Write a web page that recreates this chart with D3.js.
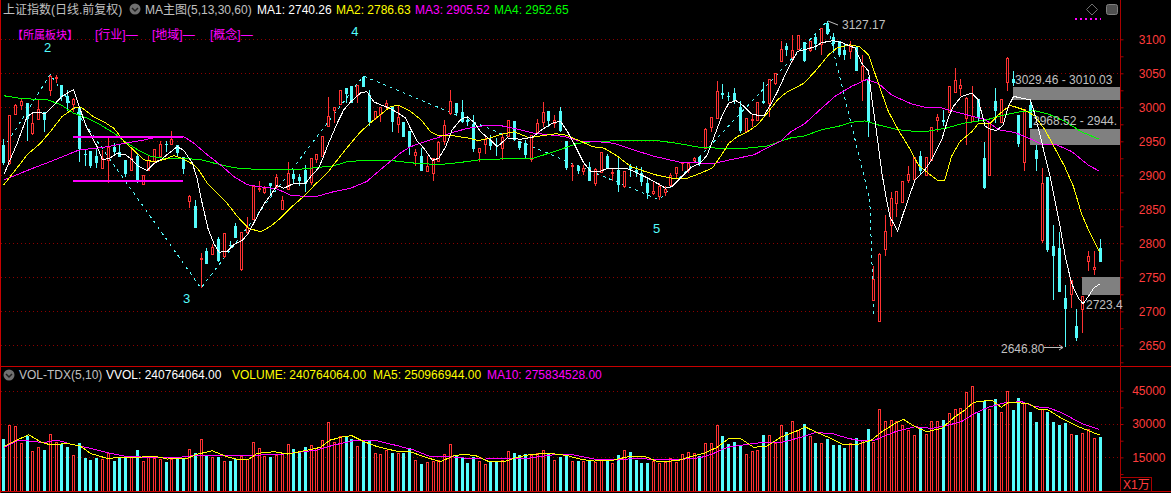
<!DOCTYPE html>
<html>
<head>
<meta charset="utf-8">
<script src="https://cdnjs.cloudflare.com/ajax/libs/d3/7.8.5/d3.min.js"></script>
<style>
    html, body { margin: 0; padding: 0; background: #000; overflow: hidden; }
    text { font-family: "Liberation Sans", "Noto Sans CJK SC", sans-serif; font-size: 12px; }
</style>
</head>
<body>
<svg id="chart" width="1171" height="493"></svg>
<script>
const UP_COLOR = "#ff3232";
const DOWN_COLOR = "#54fcfc";
const GRID_COLOR = "#8c0000";
const AXIS_COLOR = "#a80000";
const FRAME_COLOR = "#c80000";
const LABEL_COLOR = "#c0c0c0";
const TICK_COLOR = "#ff3c3c";

const opens = [
    2945,2918,2990,3003,3006,2963,2983,2993,3026,3042,
    3033,3017,3004,3000,2932,2936,2929,2911,2923,2942,
    2934,2923,2908,2928,2887,2908,2920,2928,2946,2947,
    2945,2927,2861,2855,2776,2789,2784,2807,2781,2798,
    2826,2761,2817,2835,2879,2875,2889,2884,2851,2879,
    2902,2897,2908,2891,2924,2928,2973,2996,3006,3029,
    3032,3018,3044,3018,2984,2990,3002,3000,2976,2979,
    2965,2929,2929,2906,2903,2921,2951,2992,3006,2993,
    2982,2976,2934,2945,2952,2945,2941,2958,2980,2951,
    2947,2924,2964,2978,2994,2978,2995,2951,2913,2914,
    2907,2912,2889,2905,2929,2903,2908,2885,2913,2908,
    2904,2888,2874,2870,2876,2887,2903,2917,2908,2922,
    2927,2940,2972,2985,3021,3017,3021,3000,2965,2981,
    2982,3009,3005,3036,3067,3090,3074,3087,3096,3084,
    3104,3092,3124,3103,3097,3084,3083,3089,3040,3040,
    2716,2685,2792,2826,2859,2860,2893,2894,2929,2901,
    2923,2982,2981,2994,3022,3028,2983,2979,3012,2925,
    2900,3009,2978,3037,3042,2988,2919,3004,2937,2804,
    2898,2796,2793,2719,2726,2679,2703,2775,2762,2793
];
const closes = [
    2918,2989,3003,3009,2983,2977,2997,2981,3046,3044,
    3016,3006,3012,2938,2931,2914,2919,2925,2942,2934,
    2927,2902,2925,2893,2900,2923,2938,2946,2944,2954,
    2933,2909,2869,2823,2778,2770,2794,2775,2815,2796,
    2809,2816,2824,2884,2881,2881,2885,2898,2864,2903,
    2895,2891,2888,2926,2932,2958,2987,3000,3026,3020,
    3007,3033,3030,2978,2995,3000,3006,2978,2986,2957,
    2942,2934,2907,2914,2925,2949,2974,3009,2991,2979,
    2979,2939,2940,2953,2943,2944,2957,2982,2952,2941,
    2930,2959,2977,2993,2980,2982,2965,2911,2915,2907,
    2911,2892,2910,2934,2911,2905,2886,2907,2908,2903,
    2891,2873,2877,2885,2880,2901,2912,2919,2918,2925,
    2918,2968,2986,3024,3018,3016,3009,2964,2984,2983,
    3008,3006,3041,3050,3085,3084,3084,3107,3068,3097,
    3093,3116,3108,3092,3076,3077,3092,3054,3061,2978,
    2747,2784,2818,2866,2877,2891,2902,2927,2907,2927,
    2971,2986,2978,3032,3040,3033,3013,2987,2984,2881,
    2978,2994,3012,3072,3036,2945,2997,2970,2924,2888,
    2790,2781,2729,2703,2746,2662,2722,2782,2765,2773
];
const highs = [
    2953,2989,3005,3012,3006,2991,3011,2993,3048,3047,
    3033,3026,3014,3000,2937,2936,2940,2937,2957,2947,
    2946,2923,2939,2933,2900,2928,2938,2950,2950,2965,
    2945,2927,2871,2864,2786,2793,2799,2810,2815,2803,
    2830,2816,2839,2885,2892,2885,2889,2902,2870,2919,
    2908,2902,2915,2926,2932,2958,3015,3000,3026,3029,
    3032,3033,3046,3026,2995,3000,3011,3000,3002,2979,
    2965,2938,2940,2928,2925,2950,2981,3026,3006,3011,
    2986,2989,2940,2960,2960,2955,2962,2982,2980,2951,
    2952,2959,2983,3008,2994,2989,3000,2951,2918,2915,
    2915,2919,2911,2934,2931,2911,2925,2907,2916,2914,
    2912,2896,2891,2889,2884,2903,2912,2919,2919,2927,
    2927,2969,2986,3039,3035,3023,3028,3009,2984,2989,
    3008,3037,3041,3051,3098,3094,3107,3107,3096,3098,
    3110,3116,3127,3109,3097,3094,3098,3089,3077,3045,
    2766,2786,2842,2876,2877,2891,2913,2927,2936,2927,
    2971,2990,2996,3032,3058,3041,3015,3031,3012,2949,
    2978,3028,3012,3074,3054,2989,2997,3011,2945,2911,
    2898,2827,2816,2738,2746,2703,2723,2788,2788,2807
];
const lows = [
    2915,2915,2990,2996,2951,2960,2982,2963,3016,3036,
    3009,2994,2993,2920,2914,2911,2911,2911,2888,2928,
    2927,2898,2908,2888,2886,2907,2918,2927,2934,2946,
    2928,2902,2852,2823,2734,2770,2784,2772,2778,2791,
    2808,2759,2813,2834,2876,2873,2869,2881,2850,2879,
    2888,2884,2875,2886,2918,2927,2973,2977,3006,3007,
    3006,3006,3030,2973,2982,2978,2996,2963,2962,2956,
    2930,2914,2907,2906,2892,2919,2944,2989,2990,2977,
    2972,2935,2919,2932,2937,2929,2923,2957,2950,2937,
    2924,2919,2964,2971,2971,2969,2964,2908,2892,2902,
    2901,2892,2885,2903,2911,2891,2875,2881,2898,2898,
    2885,2865,2871,2864,2870,2885,2896,2907,2904,2918,
    2914,2939,2964,2984,3012,3010,3005,2962,2963,2971,
    2981,3005,2986,3033,3067,3076,3067,3086,3067,3082,
    3085,3077,3107,3084,3074,3070,3071,3053,3009,2957,
    2716,2685,2781,2809,2839,2859,2888,2893,2901,2901,
    2923,2964,2973,2991,3021,3016,2945,2978,2978,2880,
    2900,2977,2977,3024,3031,2942,2906,2969,2907,2801,
    2787,2716,2729,2647,2705,2657,2668,2760,2754,2773
];
const volumes = [
    23250,29400,28950,21300,24600,17700,19500,18300,25350,21750,
    21150,19500,15900,21300,14700,13800,14700,14100,16800,13350,
    14550,15000,15000,18300,13200,15300,14850,14100,12900,14400,
    14100,14100,18600,16800,23100,15600,15300,15000,13200,13500,
    14400,15600,14100,21750,19050,15750,15000,16050,16800,20850,
    18600,17400,19500,20400,19200,22800,30900,21900,24450,24000,
    23100,19950,22200,22800,16800,16500,18300,16800,16800,17100,
    19200,13800,12000,12900,13500,13800,16500,21000,16050,14700,
    12450,15000,13350,11850,13050,13050,13800,17850,16950,16050,
    16500,16050,16800,18300,16500,13800,15300,15900,13350,13350,
    13350,13500,13050,14100,14250,12450,16050,18300,17400,13800,
    12450,12450,13350,12300,12750,14700,13050,16500,17400,16800,
    15600,21300,21300,29550,24600,21000,21900,20550,16500,17850,
    18300,25050,24900,21600,29400,26400,31200,27450,29850,24450,
    21300,21300,23250,20550,20550,19200,21300,23550,22800,27750,
    22050,36600,31200,31650,31200,29550,27300,25050,28200,25500,
    31200,31200,31800,34800,36600,37200,44400,47100,35100,40500,
    36600,41250,35250,44700,36300,41700,39300,35400,30900,36600,
    35400,30900,29550,30300,25500,25050,25800,27600,23700,24150
];

// moving averages as [candle position, price]
const ma1 = [[0,2901],[1.1,2923],[2.3,2947],[4,2986],[5.2,2993],[7.2,2991],[8.3,3000],[10,3016],[12,3026],[13.1,2999],[14.1,2974],[16.1,2942],[17,2923],[18.2,2925],[19.5,2932],[21,2930],[22.1,2923],[23.1,2914],[24.7,2907],[26,2918],[27.1,2923],[28.1,2930],[29.9,2942],[31,2937],[32.5,2918],[33.3,2896],[34.2,2859],[35.2,2822],[36.2,2800],[37.1,2787],[38.5,2788],[39.7,2798],[41.1,2804],[42.2,2815],[43.1,2830],[44.8,2857],[46,2871],[47.1,2885],[48.3,2881],[50,2888],[52,2888],[53.2,2901],[54.3,2911],[54.9,2923],[56,2947],[57.5,2977],[58.6,2996],[59.8,3008],[61.5,3021],[62.6,3023],[63.8,3008],[64.9,3004],[66.4,2999],[68.1,2991],[69.3,2984],[70.1,2969],[71.3,2950],[72.4,2940],[73.9,2922],[75,2925],[76.2,2942],[77.3,2967],[78.8,2982],[79.9,2986],[81.1,2978],[82.2,2964],[83.9,2952],[85.1,2942],[86.8,2955],[89.1,2953],[91.1,2956],[93.1,2969],[94.9,2978],[96,2979],[97.2,2964],[98.3,2947],[100,2918],[101.2,2906],[102.9,2906],[104,2910],[107.5,2910],[109.8,2901],[111,2896],[112.7,2888],[114.1,2881],[115.3,2884],[116.7,2896],[118.4,2911],[120.1,2918],[121.3,2930],[122.7,2962],[123.9,2989],[125,3006],[126.2,3010],[127,3006],[129.1,2989],[131.1,2988],[132.2,3004],[133.4,3023],[135.1,3055],[136.8,3082],[138.1,3085],[139.9,3089],[141,3095],[143,3098],[144.5,3095],[146.8,3087],[147.9,3065],[149.1,3053],[149.6,3016],[150.5,2962],[151.4,2903],[152.2,2864],[152.8,2839],[154.1,2818],[155.1,2844],[157.1,2893],[158.8,2908],[160,2923],[161.7,2952],[162.9,2986],[163.7,3001],[165.1,3016],[166.9,3021],[168,3011],[169.2,2972],[170.3,2967],[171.2,2966],[172.3,2974],[173.2,3001],[174.1,3016],[177,3011],[177.8,2989],[179,2947],[180.4,2898],[181.2,2864],[182.1,2825],[183,2781],[184.1,2741],[185.3,2719],[186.1,2711],[187,2722],[187.9,2734],[188.9,2740]];
const ma2 = [[0,2886],[1.1,2898],[2.3,2911],[4,2930],[6.3,2947],[8,2964],[10,2986],[12.1,2999],[13.5,2999],[15.5,2986],[17.2,2979],[19,2969],[20.7,2950],[22.4,2937],[24.1,2923],[25.9,2920],[27.6,2923],[29.3,2929],[31,2924],[32.8,2915],[33.6,2908],[35.1,2888],[36.8,2874],[38.5,2859],[40.2,2840],[42.2,2822],[44.3,2817],[46,2825],[47.7,2837],[49.7,2854],[51.7,2869],[53.4,2884],[56,2906],[58,2928],[59.8,2947],[61.5,2964],[63.2,2977],[64.9,2989],[66.7,3001],[68.1,3003],[70.1,2994],[71.9,2982],[73.6,2964],[75,2958],[77.6,2958],[79.9,2955],[81.9,2951],[83.9,2955],[85.7,2960],[88,2964],[90.6,2955],[92.6,2958],[95.1,2961],[96.6,2960],[99.5,2950],[101.5,2942],[103.5,2940],[105.8,2928],[108.1,2913],[110.4,2906],[112.7,2900],[115.6,2895],[117.9,2896],[120.1,2903],[122.2,2911],[123.6,2928],[125,2947],[126.5,2957],[128.2,2964],[129.9,2974],[131.6,2991],[133.4,3011],[135.1,3023],[137.9,3035],[139.9,3053],[142.2,3077],[143.6,3087],[145.9,3092],[147.6,3089],[149.1,3077],[150.8,3035],[152.5,2994],[154.2,2967],[156,2942],[157.7,2915],[159.4,2903],[161.1,2892],[162.2,2892],[163.4,2928],[164.9,2950],[166.9,2964],[168,2976],[170,2976],[171.5,2989],[173.5,3003],[176,2996],[177.8,2987],[179.5,2967],[181.2,2940],[182.9,2913],[184.4,2884],[185.8,2844],[187,2820],[188.9,2787]];
const ma3 = [[0,2893],[2.3,2901],[5.2,2911],[8,2920],[10.3,2928],[12.9,2937],[14.9,2939],[17.8,2942],[20.7,2947],[23.6,2951],[26.4,2956],[31,2957],[32.8,2947],[35.1,2930],[37.4,2915],[39.7,2898],[42,2886],[44.3,2883],[47.1,2880],[49.4,2871],[51.7,2869],[54,2869],[56.9,2876],[59.8,2881],[62.6,2891],[64.9,2908],[68.4,2933],[70.1,2942],[72.4,2949],[74.7,2955],[77,2962],[79.9,2969],[82.8,2973],[85.7,2973],[88.5,2968],[91.4,2962],[93.7,2960],[96.6,2957],[99.5,2950],[102.9,2949],[105.2,2947],[108.7,2937],[112.1,2928],[116.7,2919],[120.1,2918],[122.7,2918],[125.9,2924],[129.3,2930],[131.6,2940],[133.9,2950],[135.7,2964],[138.1,2976],[140.4,2994],[143.3,3016],[146.2,3031],[148.8,3041],[150.8,3035],[153.1,3018],[156.5,3005],[158.8,3000],[161.7,2999],[165.1,2991],[169.2,2982],[171.5,2967],[174.3,2963],[176.6,2955],[178.9,2946],[181.2,2946],[184.1,2935],[187,2915],[188.9,2906]];
const ma4 = [[0,3017],[2.9,3013],[5.2,3012],[7.5,3011],[9.8,3004],[12.1,2991],[14.4,2984],[16.7,2974],[19,2962],[21.3,2947],[23.6,2935],[25.3,2928],[27.6,2925],[31,2925],[33.9,2923],[36.2,2918],[39.7,2911],[43.1,2909],[47.1,2908],[50,2908],[53.4,2911],[56.9,2914],[59.2,2920],[62.1,2922],[66.7,2922],[68.4,2920],[71.9,2917],[75.3,2916],[78.8,2919],[82.2,2923],[85.7,2924],[90.8,2924],[93.1,2930],[96,2938],[98.9,2947],[102.3,2950],[107.5,2951],[112.7,2951],[116.1,2947],[120.1,2941],[123,2940],[128.2,2940],[131.6,2943],[133.9,2950],[135.7,2955],[138.1,2958],[141,2967],[143.9,2972],[146.2,2978],[148.5,2980],[150.8,2974],[154.2,2967],[156.5,2965],[159.4,2965],[162.3,2969],[165.7,2977],[169.2,2981],[172.6,2989],[174.9,2993],[177.8,2995],[180.1,2990],[183,2979],[185.8,2964],[188.9,2953]];

const volMa5 = [[0,19800],[1.1,21300],[2.3,22800],[4.3,25200],[6.3,22050],[8.1,20550],[10.9,21300],[13.2,20100],[14.9,16800],[17.8,14550],[20.7,15000],[26.4,15300],[28.2,14250],[31.6,14550],[33.3,16350],[35.9,18000],[38.5,15300],[40.2,14100],[42.2,14100],[43.7,16800],[46.6,17550],[48.9,16500],[51.1,17550],[54.6,19500],[56.3,22800],[58.6,24300],[60,24750],[62.1,22050],[64.4,19800],[68.1,17550],[70.1,17550],[72.4,15300],[75.3,13050],[77.6,15750],[79.3,16350],[81.4,15750],[83.4,13350],[86.2,13050],[88.5,15000],[90.8,16350],[94.3,16800],[97.2,15750],[99.5,14100],[101.8,13350],[105.2,13800],[108.1,15600],[110.4,15600],[112.7,13050],[116.1,13500],[118.4,15300],[120.7,16800],[123,19500],[125,23550],[127,23550],[129.3,19500],[131.6,20100],[133.9,24000],[137.4,27600],[138.1,28800],[139.9,26550],[142.2,24000],[144.5,21000],[147.3,20850],[149.6,22800],[151.4,26550],[153.7,30300],[155.1,32100],[157.1,28800],[159.1,26550],[161.7,28050],[164,33300],[165.7,36300],[167.2,39750],[170.3,40800],[172,37500],[173.2,39750],[176.6,39300],[178.4,36600],[180.1,36300],[182.4,32550],[185.3,28800],[187,27000],[188.9,25100]];
const volMa10 = [[0,19500],[2.3,22500],[4.6,22350],[6.9,21600],[9.2,22800],[11.5,21000],[15,19050],[18.4,16800],[21.3,15300],[26.4,15000],[29.9,14850],[33.3,16050],[38.5,15750],[42.5,15750],[44.3,16050],[48.3,16500],[54,18300],[56.9,20550],[60.3,22500],[63.8,22800],[68.1,20100],[70.7,18300],[73.6,15300],[76.5,15450],[79.9,14550],[82.8,14250],[86.8,14400],[90.3,14550],[94.3,16050],[97.7,16350],[101.8,14250],[105.8,13800],[108.7,14550],[113.3,13950],[116.7,14100],[120.1,14850],[122.4,16800],[124.7,19500],[128.2,20850],[131,21750],[133.9,21600],[137.4,24000],[139.9,26100],[142.7,25800],[145.6,23550],[147.9,22350],[150.2,22800],[153.7,26550],[157.1,28800],[160,28050],[162.9,29550],[165.1,31050],[167.4,34800],[169.7,37500],[172.6,39600],[175.5,40050],[177.8,37800],[180.1,37350],[182.4,35100],[185.8,30300],[188.9,27600]];

// hand drawn wave and boxes on the chart, in candle position + price
const waveLine = [[0,2940],[8,3048],[34,2734],[62,3046],[113,2864],[142,3127],[143,3084],[149.3,2864],[150,2695]];
const waveNumbers = [["2",7,3082],["3",31,2712],["4",60,3105],["5",112,2815]];
const flatLines = [[12,31,2957],[12,31,2892]];
const zones = [[174,3029.46,3010.03],[177,2968.52,2944],[186,2751,2723.4]];

const priceTicks = d3.range(2650, 3101, 50);
const priceMinorTicks = d3.range(2625, 3101, 50);
const volumeTicks = [15000, 30000, 45000];
const volumeMinorTicks = [7500, 22500, 37500];

const CHART_RIGHT = 1120;

const svg = d3.select("#chart");
const x = d3.scaleLinear().domain([0, 189]).range([3.3, 1099.5]);
const y = d3.scaleLinear().domain([2650, 3100]).range([345.3, 39.3]);
const yVol = d3.scaleLinear().domain([0, 45000]).range([490.7, 390.7]);
const px = (v) => Math.round(v);
const isUp = (i) => closes[i] >= opens[i];

function drawGrid(ticks, scale) {
    svg.append("g").selectAll("line").data(ticks).enter().append("line")
        .attr("x1", 1).attr("x2", CHART_RIGHT)
        .attr("y1", (d) => px(scale(d)) + 0.5).attr("y2", (d) => px(scale(d)) + 0.5)
        .attr("stroke", GRID_COLOR).attr("stroke-dasharray", "1,3");
}

function drawAxis(scale, ticks, minorTicks) {
    const minor = d3.axisRight(scale).tickValues(minorTicks).tickSize(3).tickFormat("");
    const major = d3.axisRight(scale).tickValues(ticks).tickSize(3).tickPadding(0).tickFormat(d3.format("d"));
    svg.append("g").attr("transform", "translate(" + (CHART_RIGHT + 0.5) + ",0)").call(minor);
    const g = svg.append("g").attr("transform", "translate(" + (CHART_RIGHT + 0.5) + ",0)").call(major);
    svg.selectAll(".domain").remove();
    svg.selectAll(".tick line").attr("stroke", AXIS_COLOR);
    g.selectAll("text")
        .attr("x", 45).attr("text-anchor", "end")
        .attr("fill", TICK_COLOR)
        .style("font-size", "12px").style("font-family", "Liberation Sans");
}

function drawCandles() {
    const g = svg.append("g").attr("shape-rendering", "crispEdges");
    const idx = d3.range(opens.length);
    g.selectAll(".wick").data(idx).enter().append("line")
        .attr("x1", (i) => px(x(i)) + 0.5).attr("x2", (i) => px(x(i)) + 0.5)
        .attr("y1", (i) => y(highs[i])).attr("y2", (i) => y(lows[i]))
        .attr("stroke", (i) => isUp(i) ? UP_COLOR : DOWN_COLOR);
    g.selectAll(".body").data(idx).enter().append("rect")
        .attr("x", (i) => isUp(i) ? px(x(i)) - 0.5 : px(x(i)) - 1)
        .attr("width", (i) => isUp(i) ? 2 : 3)
        .attr("y", (i) => px(y(Math.max(opens[i], closes[i]))) + (isUp(i) ? 0.5 : 0))
        .attr("height", (i) => Math.max(1, px(Math.abs(y(opens[i]) - y(closes[i])))))
        .attr("fill", (i) => isUp(i) ? "#000" : DOWN_COLOR)
        .attr("stroke", (i) => isUp(i) ? UP_COLOR : "none");
}

function drawVolumes() {
    const g = svg.append("g").attr("shape-rendering", "crispEdges");
    const idx = d3.range(volumes.length);
    g.selectAll("rect").data(idx).enter().append("rect")
        .attr("x", (i) => isUp(i) ? px(x(i)) - 0.5 : px(x(i)) - 1)
        .attr("width", (i) => isUp(i) ? 2 : 3)
        .attr("y", (i) => px(yVol(volumes[i])) + (isUp(i) ? 0.5 : 0))
        .attr("height", (i) => 491 - px(yVol(volumes[i])))
        .attr("fill", (i) => isUp(i) ? "#000" : DOWN_COLOR)
        .attr("stroke", (i) => isUp(i) ? UP_COLOR : "none");
}

function drawLine(points, scale, color, width) {
    const line = d3.line().x((d) => x(d[0]) + 0.5).y((d) => scale(d[1]));
    return svg.append("path").attr("d", line(points))
        .attr("fill", "none").attr("stroke", color)
        .attr("stroke-width", width || 1).attr("shape-rendering", "crispEdges");
}

function label(txt, lx, ly, color, size) {
    return svg.append("text").attr("x", lx).attr("y", ly)
        .attr("fill", color).style("font-size", (size || 12) + "px").text(txt);
}

function drawDropIcon(cx, cy) {
    svg.append("circle").attr("cx", cx).attr("cy", cy).attr("r", 5.5).attr("fill", "#707070");
    svg.append("path").attr("d", d3.line()([[cx - 3, cy - 1], [cx, cy + 2], [cx + 3, cy - 1]]))
        .attr("fill", "none").attr("stroke", "#202020").attr("stroke-width", 1.5);
}

function drawFrame() {
    const frame = svg.append("g").attr("shape-rendering", "crispEdges");
    frame.append("line").attr("x1", 0.5).attr("x2", 0.5).attr("y1", 0).attr("y2", 493).attr("stroke", FRAME_COLOR);
    frame.append("line").attr("x1", 0).attr("x2", 1171).attr("y1", 366.5).attr("y2", 366.5).attr("stroke", FRAME_COLOR);
    frame.append("line").attr("x1", 0).attr("x2", 1171).attr("y1", 491.5).attr("y2", 491.5).attr("stroke", FRAME_COLOR);
    frame.append("line").attr("x1", CHART_RIGHT + 0.5).attr("x2", CHART_RIGHT + 0.5).attr("y1", 0).attr("y2", 491).attr("stroke", AXIS_COLOR);
    frame.append("rect").attr("x", 1120.5).attr("y", 477.5).attr("width", 31).attr("height", 14)
        .attr("fill", "none").attr("stroke", AXIS_COLOR);
    label("X1万", 1123, 489, TICK_COLOR, 12);
}

function drawHeader() {
    label("上证指数(日线.前复权)", 3, 14, LABEL_COLOR, 12);
    drawDropIcon(135, 9);
    label("MA主图(5,13,30,60)", 145, 14, LABEL_COLOR);
    label("MA1: 2740.26", 257, 14, "#ffffff");
    label("MA2: 2786.63", 336, 14, "#ffff00");
    label("MA3: 2905.52", 415, 14, "#ff00ff");
    label("MA4: 2952.65", 494, 14, "#00ff00");

    label("【所属板块】", 12, 39, "#ff00ff", 11);
    label("[行业]—", 95, 39, "#ff00ff", 12);
    label("[地域]—", 152, 39, "#ff00ff", 12);
    label("[概念]—", 210, 39, "#ff00ff", 12);

    drawDropIcon(9, 375);
    label("VOL-TDX(5,10)", 19, 379, LABEL_COLOR);
    label("VVOL: 240764064.00", 106, 379, "#ffffff");
    label("VOLUME: 240764064.00", 232, 379, "#ffff00");
    label("MA5: 250966944.00", 373, 379, "#ffff00");
    label("MA10: 275834528.00", 487, 379, "#ff00ff");

    // top right corner buttons
    svg.append("path").attr("d", "M1092 4L1097.5 9.5L1092 15L1086.5 9.5Z").attr("fill", "none").attr("stroke", "#707070");
    svg.append("rect").attr("x", 1106.5).attr("y", 4.5).attr("width", 11).attr("height", 10).attr("rx", 2)
        .attr("fill", "#505050").attr("stroke", "#808080");
    svg.append("line").attr("x1", 1075).attr("x2", 1101).attr("y1", 19).attr("y2", 19)
        .attr("stroke", "#ff00ff").attr("stroke-width", 2).attr("stroke-dasharray", "2,3");
}

function drawAnnotations() {
    svg.append("g").selectAll("text").data(waveNumbers).enter().append("text")
        .attr("x", (d) => x(d[1])).attr("y", (d) => y(d[2]))
        .attr("fill", DOWN_COLOR).style("font-size", "13px").text((d) => d[0]);

    svg.append("g").selectAll("line").data(flatLines).enter().append("line")
        .attr("x1", (d) => x(d[0])).attr("x2", (d) => x(d[1]))
        .attr("y1", (d) => px(y(d[2]))).attr("y2", (d) => px(y(d[2])))
        .attr("stroke", "#ff00ff").attr("stroke-width", 2).attr("shape-rendering", "crispEdges");

    label("3127.17", 842, 29, LABEL_COLOR);
    svg.append("path").attr("d", "M828 21L838 25").attr("stroke", LABEL_COLOR).attr("fill", "none");
    label("3029.46 - 3010.03", 1015, 84, LABEL_COLOR);
    label("2968.52 - 2944.", 1033, 125, LABEL_COLOR);
    label("2723.4", 1086, 309, LABEL_COLOR);
    label("2646.80", 1001, 353, LABEL_COLOR);
    svg.append("path").attr("d", "M1044 347.5H1063M1059 345L1063 347.5L1059 350").attr("stroke", LABEL_COLOR).attr("fill", "none");
}

function render() {
    drawGrid(priceTicks, y);
    drawGrid(volumeTicks, yVol);

    svg.append("g").selectAll("rect").data(zones).enter().append("rect")
        .attr("x", (d) => px(x(d[0])))
        .attr("width", (d) => CHART_RIGHT - px(x(d[0])))
        .attr("y", (d) => px(y(d[1])))
        .attr("height", (d) => px(y(d[2])) - px(y(d[1])))
        .attr("fill", "#808080");

    drawLine(waveLine, y, DOWN_COLOR).attr("stroke-dasharray", "3,4");
    drawCandles();
    drawLine(ma4, y, "#00ff00");
    drawLine(ma3, y, "#ff00ff");
    drawLine(ma2, y, "#ffff00");
    drawLine(ma1, y, "#ffffff");

    drawVolumes();
    drawLine(volMa10, yVol, "#ff00ff");
    drawLine(volMa5, yVol, "#ffff00");

    drawFrame();
    drawAxis(y, priceTicks, priceMinorTicks);
    drawAxis(yVol, volumeTicks, volumeMinorTicks);
    drawHeader();
    drawAnnotations();
}

render();
</script>
</body>
</html>
